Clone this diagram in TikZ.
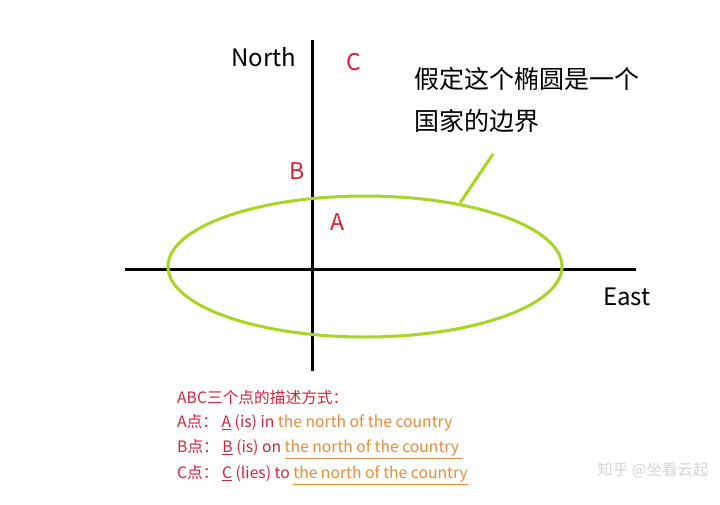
\documentclass[tikz,border=0pt]{standalone}
\usepackage{fontspec}
\usetikzlibrary{shapes.geometric}
\setmainfont{Noto Sans CJK SC}
\newfontfamily\cjk{Noto Sans CJK SC}
\definecolor{lred}{RGB}{214,32,48}
\definecolor{ored}{RGB}{200,40,60}
\definecolor{lorange}{RGB}{228,140,60}
\definecolor{lgreen}{RGB}{168,212,40}
\definecolor{wm}{RGB}{212,212,212}
\tikzset{
  axis/.style={line width=3pt, black},
  border/.style={line width=3pt, lgreen},
  big/.style={font=\cjk\fontsize{24}{28}\selectfont, inner sep=0pt},
  cjkbig/.style={font=\cjk\fontsize{25}{30}\selectfont, inner sep=0pt, anchor=west},
  letter/.style={font=\cjk\fontsize{23}{28}\selectfont, text=lred, inner sep=0pt},
  note/.style={font=\cjk\fontsize{15.7}{18}\selectfont, text=ored, inner sep=0pt, anchor=west},
}
\begin{document}
\begin{tikzpicture}[x=1pt,y=-1pt]
\useasboundingbox (0,0) rectangle (720,504);
\fill[white] (0,0) rectangle (720,504);
% axes
\coordinate (nTop) at (312,40);
\coordinate (nBot) at (312,371);
\coordinate (eL) at (125,269);
\coordinate (eR) at (636,269);
\draw[axis] (nTop) -- (nBot);
\draw[axis] (eL) -- (eR);
% ellipse border
\node[draw=lgreen, line width=3pt, ellipse, minimum width=394pt, minimum height=141pt, inner sep=0pt] (country) at (365,266.5) {};
\coordinate (p1) at (493,154);
\coordinate (p2) at (460,203);
\draw[border] (p1) -- (p2);
% labels
\node[big] (north) at (264,57) {North};
\node[big] (east) at (627,297) {East};
\node[letter] (C) at (354,62) {C};
\node[letter] (B) at (297,171) {B};
\node[letter] (A) at (337,222) {A};
\node[cjkbig] (t1) at (414,79) {假定这个椭圆是一个};
\node[cjkbig] (t2) at (414,121) {国家的边界};
% notes
\node[note] (n0) at (177,397) {ABC三个点的描述方式：};
\node[note] (n1) at (177,423) {A点： \underline{A} (is) in \textcolor{lorange}{the north of the country}};
\node[note] (n2) at (177,449) {B点： \underline{B} (is) on \textcolor{lorange}{\underline{the north of the country\ }}};
\node[note] (n3) at (177,475) {C点： \underline{C} (lies) to \textcolor{lorange}{\underline{the north of the country}}};
% watermark
\node[font=\cjk\fontsize{15.5}{18}\selectfont, text=wm, inner sep=0pt] (wmk) at (653,470) {知乎 @坐看云起};
\end{tikzpicture}
\end{document}
